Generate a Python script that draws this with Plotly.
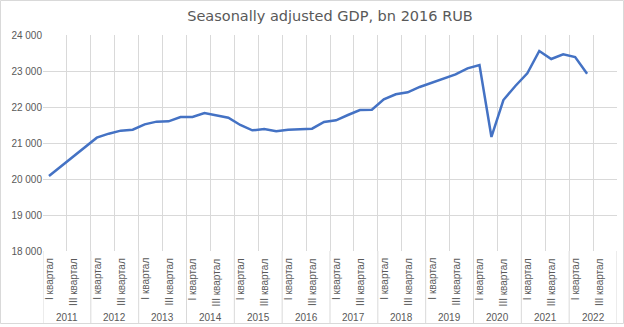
import plotly.graph_objects as go

years = ["2011", "2012", "2013", "2014", "2015", "2016", "2017", "2018", "2019", "2020", "2021", "2022"]
quarter_names = ["I квартал", "II квартал", "III квартал", "IV квартал"]
quarter_shown = [True, False, True, False]
gdp = [20083, 20343, 20620, 20870, 21148, 21259, 21343, 21370, 21519, 21593,
       21602, 21722, 21722, 21833, 21759, 21704, 21500, 21352, 21389, 21324,
       21370, 21380, 21398, 21583, 21630, 21778, 21917, 21926, 22213, 22352,
       22407, 22556, 22667, 22778, 22907, 23074, 23167, 21167, 22194, 22583,
       22935, 23556, 23333, 23463, 23389, 22926]
title = "Seasonally adjusted GDP, bn 2016 RUB"

cats = [f"{y} {q}" for y in years for q in quarter_names]

TXT = "#595959"
GRID = "#d9d9d9"
FONT = "Liberation Sans"

fig = go.Figure()
fig.add_trace(go.Scatter(x=cats[:len(gdp)], y=gdp, mode="lines",
                         line=dict(color="#4472C4", width=2.5), hoverinfo="x+y"))

annotations = []
shapes = []
for yi, yr in enumerate(years):
    for qi, qn in enumerate(quarter_names):
        if quarter_shown[qi]:
            annotations.append(dict(x=cats[yi * 4 + qi], y=0, xref="x", yref="paper",
                                    text=qn, textangle=-90, showarrow=False,
                                    xanchor="center", yanchor="top", yshift=-5,
                                    font=dict(family=FONT, size=10, color=TXT)))
    annotations.append(dict(x=yi * 4 + 1.5, y=-0.306, xref="x", yref="paper",
                            text=yr, showarrow=False, xanchor="center", yanchor="middle",
                            font=dict(family=FONT, size=10, color=TXT)))
for k in range(len(years) + 1):
    shapes.append(dict(type="line", xref="x", yref="paper", x0=k * 4 - 0.5, x1=k * 4 - 0.5,
                       y0=-0.335, y1=0, line=dict(color=GRID, width=1)))

# chart area border
pw, ph = 624 - 43 - 7, 327 - 35 - 76
shapes.append(dict(type="rect", xref="paper", yref="paper",
                   x0=-42.5 / pw, x1=1 + 6.5 / pw, y0=-72.5 / ph, y1=1 + 34.5 / ph,
                   line=dict(color=GRID, width=1)))

fig.update_layout(
    width=624, height=327,
    margin=dict(l=43, r=7, t=35, b=76),
    paper_bgcolor="white", plot_bgcolor="white",
    separators=", ",
    showlegend=False,
    title=dict(text=title, x=0.5, xref="paper", xanchor="center", y=1 - 15.5 / 327, yanchor="middle",
               font=dict(family="DejaVu Sans", size=14.5, color=TXT)),
    xaxis=dict(type="category", categoryorder="array", categoryarray=cats,
               range=[-0.5, len(cats) - 0.5], tickson="boundaries",
               showticklabels=False, ticks="", showgrid=True, gridcolor=GRID, gridwidth=1,
               showline=False, zeroline=False),
    yaxis=dict(range=[18000, 24000], dtick=1000, tickformat=",d",
               showgrid=True, gridcolor=GRID, gridwidth=1, zeroline=False, showline=False,
               ticks="", tickfont=dict(family=FONT, size=10, color=TXT)),
    annotations=annotations, shapes=shapes,
)

fig.write_html("out.html")
